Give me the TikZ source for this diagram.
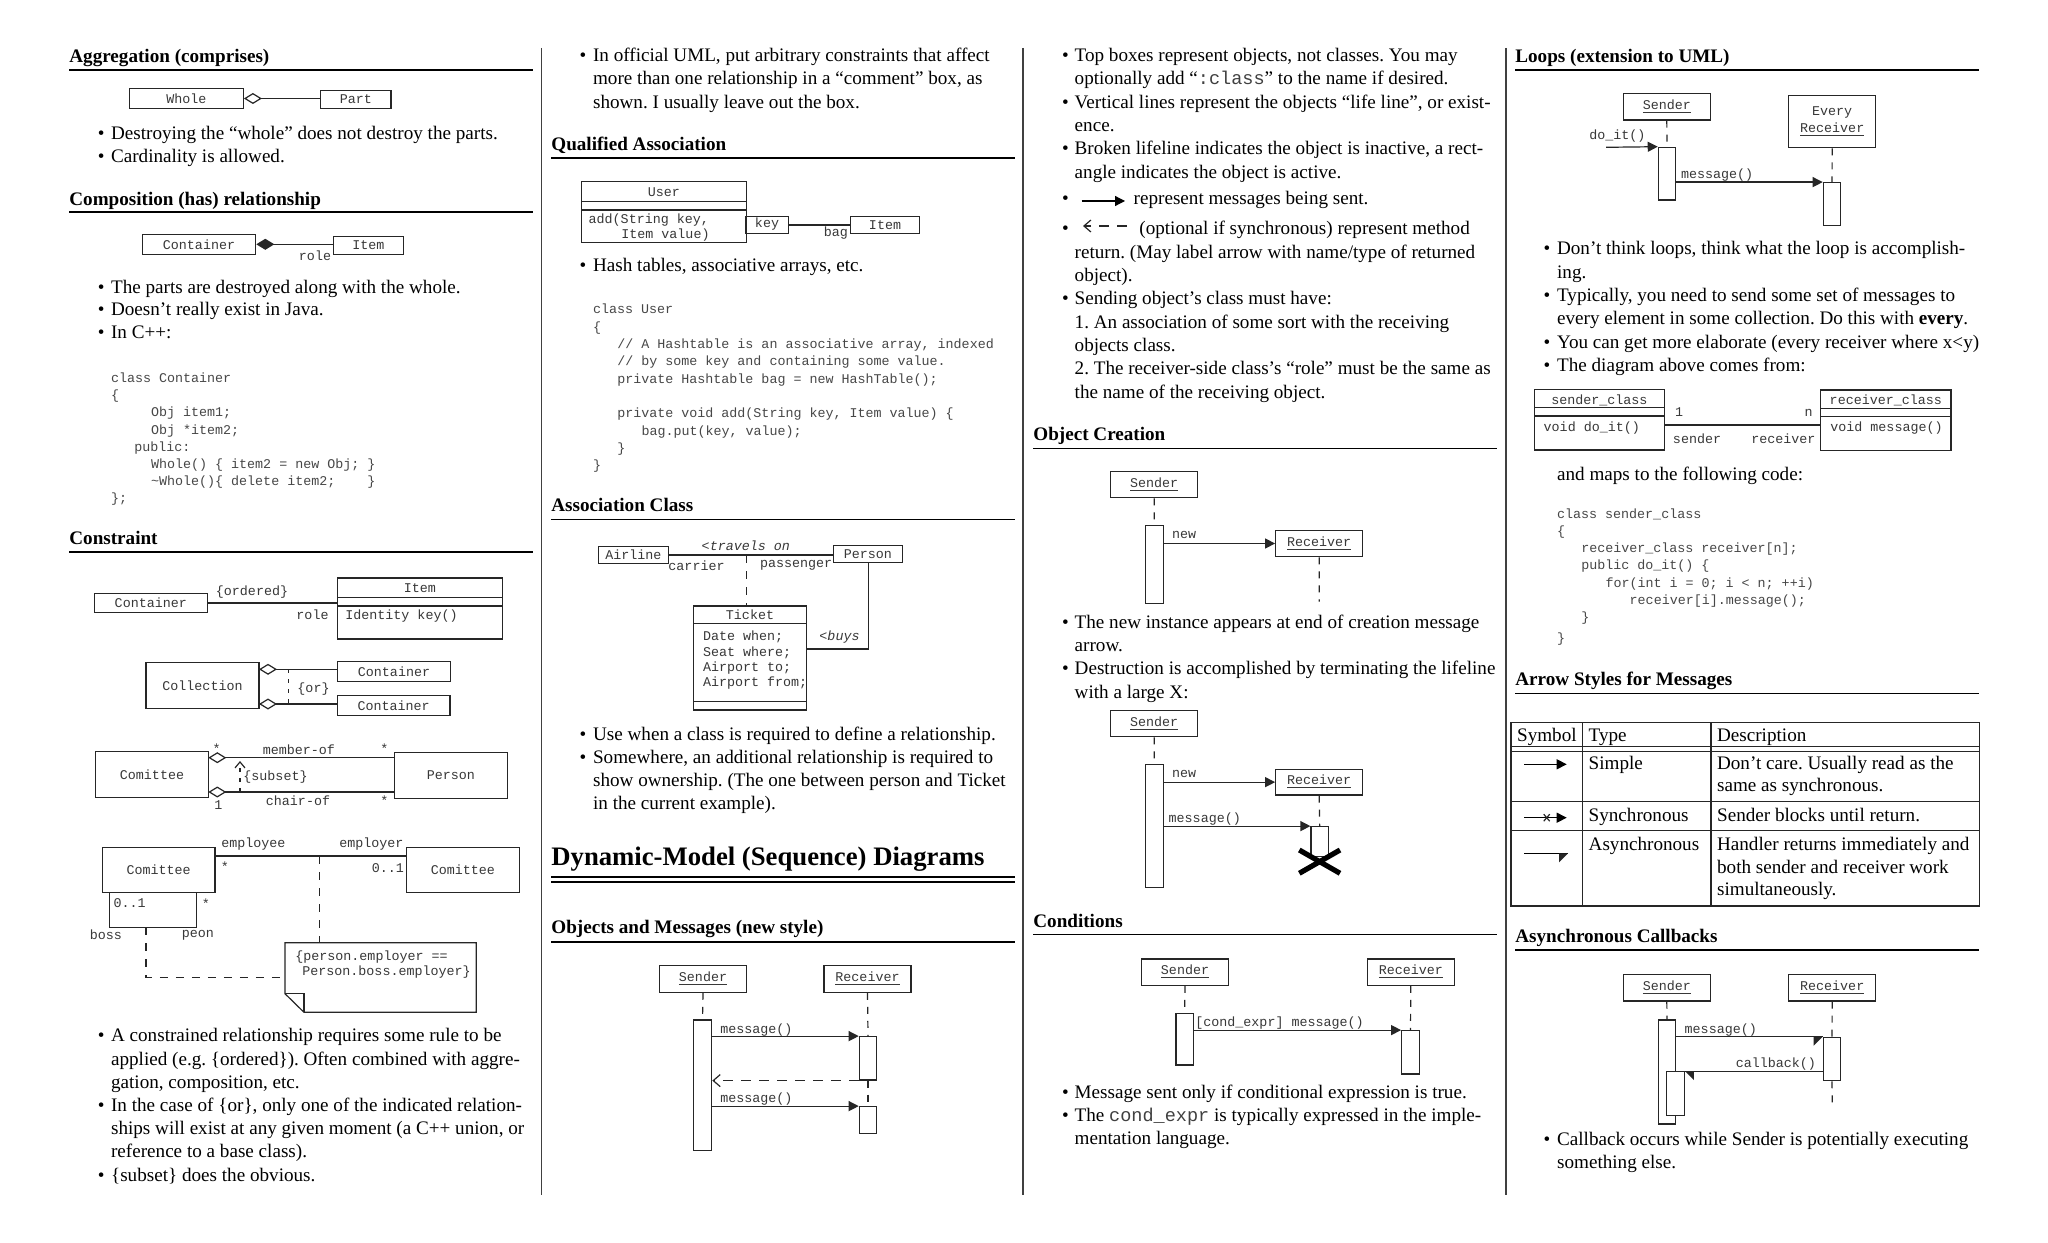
\documentclass[tikz,border=0pt]{standalone}
\usepackage{fontspec}
\setmainfont{Liberation Serif}
\setmonofont{Liberation Mono}
\usetikzlibrary{arrows.meta,fit,calc}
\tikzset{
  txt/.style={anchor=base west, inner sep=0pt, font=\fontsize{9.6}{11.7}\selectfont},
  hd/.style={anchor=base west, inner sep=0pt, font=\bfseries\fontsize{9.6}{11.7}\selectfont},
  cd/.style={anchor=base west, inner sep=0pt, font=\ttfamily\fontsize{6.7}{8}\selectfont, text=black!72},
  lb/.style={inner sep=0pt, font=\ttfamily\fontsize{6.7}{8}\selectfont, text=black!78},
  lbw/.style={lb, anchor=west},
  lbi/.style={lb, font=\ttfamily\itshape\fontsize{6.7}{8}\selectfont},
  bx/.style={draw=black!85, line width=0.6bp, inner sep=0pt},
  act/.style={bx, fill=white},
  rl/.style={line width=0.8bp},
  sep/.style={draw=black!75, line width=0.7bp},
  ln/.style={draw=black!85, line width=0.6bp},
  life/.style={ln, dash pattern=on 3.5bp off 3.5bp},
  dsh/.style={ln, dash pattern=on 2bp off 3bp},
  dshb/.style={ln, dash pattern=on 4bp off 4bp},
  msg/.style={ln, -{Triangle[length=5bp,width=5bp]}},
  ret/.style={ln, dash pattern=on 5bp off 4bp, -{Straight Barb[length=3.5bp,width=6bp]}},
  agg/.style={ln, {Diamond[open,length=9bp,width=5.5bp]}-},
  cmp/.style={ln, {Diamond[length=9bp,width=5.5bp]}-},
}
\newcommand\UB[5]{\node[bx, fit={(#2,#3) (#4,#5)}] (#1) {};}
\newcommand\UA[5]{\node[act, fit={(#2,#3) (#4,#5)}] (#1) {};}
\newcommand\TX[4]{\node[txt] (#1) at (#2,#3) {#4};}
\newcommand\BT[5]{\node[txt] (#1b) at (#2,#4) {\textbullet}; \node[txt] (#1) at (#3,#4) {#5};}
\newcommand\HD[5]{\node[hd] (#1) at (#2,#3) {#5}; \draw[rl] (#2,#4) -- ++(464,0);}
\newcommand\HR[1]{\fill[black!85] (#1) -- ++(-9,0) -- ++(0,9) -- cycle;}
\newcommand\HL[1]{\fill[black!85] (#1) -- ++(9,0) -- ++(0,9) -- cycle;}
\newcommand\itt[1]{{\ttfamily\fontsize{9.3}{11.7}\selectfont\color{black!75}#1}}
\def\bA{97.5}\def\tA{110.7}
\def\bB{579.3}\def\tB{592.7}
\def\bC{1061.7}\def\tC{1074.3}
\def\bD{1543.3}\def\tD{1556.7}
\begin{document}
\frenchspacing
\begin{tikzpicture}[x=0.5bp,y=-0.5bp]
\useasboundingbox (0,0) rectangle (2048,1243);
\fill[white] (0,0) rectangle (2048,1243);
% column separators
\draw[sep] (541.7,48) -- (541.7,1195);
\draw[sep] (1023,48) -- (1023,1195);
\draw[sep] (1506,48) -- (1506,1195);

% ================= COLUMN 1
\HD{h1}{69}{62.3}{70}{Aggregation (comprises)}
\UB{whole}{129.3}{88.7}{243.3}{108.3}
\UB{part}{320.7}{90.7}{391}{108.3}
\node[lb] (wholet) at (whole) {Whole};
\node[lb] (partt) at (part) {Part};
\draw[agg] (whole.east) -- (whole.east -| part.west);
\BT{a1}{\bA}{\tA}{139.3}{Destroying the “whole” does not destroy the parts.}
\BT{a2}{\bA}{\tA}{162.3}{Cardinality is allowed.}

\HD{h2}{69}{205.7}{212.3}{Composition (has) relationship}
\UB{cont}{142.3}{234.3}{255.7}{254.3}
\UB{itm}{333.3}{236.3}{403.3}{254.3}
\node[lb] (contt) at (cont) {Container};
\node[lb] (itmt) at (itm) {Item};
\draw[cmp] (cont.east) -- (cont.east -| itm.west);
\node[lb] (role1) at (315,256) {role};
\BT{a3}{\bA}{\tA}{293.3}{The parts are destroyed along with the whole.}
\BT{a4}{\bA}{\tA}{316}{Doesn’t really exist in Java.}
\BT{a5}{\bA}{\tA}{339}{In C++:}

\node[cd] (k1) at (110.7,382.3) {class Container};
\node[cd] (k2) at (110.7,399.5) {\{};
\node[cd] (k3) at (150.7,416.7) {Obj item1;};
\node[cd] (k4) at (150.7,434) {Obj *item2;};
\node[cd] (k5) at (134,451.2) {public:};
\node[cd] (k6) at (150.7,468.4) {Whole() \{ item2 = new Obj; \}};
\node[cd] (k7) at (150.7,485.6) {\textasciitilde Whole()\{ delete item2;\ \ \ \ \}};
\node[cd] (k8) at (110.7,502.8) {\};};

\HD{h3}{69}{544.5}{551.7}{Constraint}
% diagram 1
\UB{ccont}{94.3}{593.3}{207.3}{612.7}
\UB{citem}{337.3}{578}{502.3}{639}
\draw[ln] (337.3,597.3) -- (502.3,597.3);
\draw[ln] (337.3,606) -- (502.3,606);
\node[lb] (ccontt) at (ccont) {Container};
\node[lb] (citemt) at (419.8,588) {Item};
\node[lbw] (citemk) at (345,616) {Identity key()};
\draw[ln] (ccont.east) -- (ccont.east -| citem.west);
\node[lb] (ord) at (252,592.3) {\{ordered\}};
\node[lb] (role2) at (312.5,614.3) {role};
% diagram 2
\UB{coll}{146}{662.7}{259}{708.3}
\UB{cu}{337.3}{661.3}{450.7}{681.7}
\UB{cl}{337.3}{695.7}{450}{715.7}
\node[lb] (collt) at (coll) {Collection};
\node[lb] (cut) at (cu) {Container};
\node[lb] (clt) at (cl) {Container};
\coordinate (cu0) at (259,669.3);
\coordinate (cl0) at (259,704);
\draw[agg] (cu0) -- (cu0 -| cu.west);
\draw[agg] (cl0) -- (cl0 -| cl.west);
\coordinate (or1) at (288.3,669.3);
\coordinate (or2) at (288.3,704);
\draw[dsh] (or1) -- (or2);
\node[lb] (ort) at (313.5,689.3) {\{or\}};
% diagram 3
\UB{com1}{95.7}{751.3}{208.3}{797.3}
\UB{pers}{394.3}{752.3}{507.3}{798.3}
\node[lb] (com1t) at (com1) {Comittee};
\node[lb] (perst) at (pers) {Person};
\coordinate (m1) at (208.3,757.7);
\coordinate (m2) at (208.3,792);
\draw[agg] (m1) -- (m1 -| pers.west);
\draw[agg] (m2) -- (m2 -| pers.west);
\coordinate (sb1) at (240,792);
\coordinate (sb2) at (240,761);
\draw[ln, dash pattern=on 2bp off 3bp, -{Straight Barb[length=3bp,width=5bp]}] (sb1) -- (sb2);
\node[lb] (st1) at (216.7,749) {*};
\node[lb] (mo) at (298.8,749.5) {member-of};
\node[lb] (st2) at (384.3,749) {*};
\node[lb] (sbs) at (275.5,777.3) {\{subset\}};
\node[lb] (one1) at (218.3,805) {1};
\node[lb] (co) at (298,800.5) {chair-of};
\node[lb] (st3) at (384.3,800.5) {*};
% diagram 4
\UB{com2}{102.3}{847.3}{215}{892.7}
\UB{com3}{406.3}{847.3}{519.3}{892.7}
\node[lb] (com2t) at (com2) {Comittee};
\node[lb] (com3t) at (com3) {Comittee};
\coordinate (e1) at (215,856);
\draw[ln] (e1) -- (e1 -| com3.west);
\coordinate (sl1) at (109.3,892.7);
\coordinate (sl2) at (196.7,892.7);
\draw[ln] (sl1) -- ++(0,34.6) -| (sl2);
\node[inner sep=0pt, fit={(285,942.7) (476.3,1012.3)}] (note) {};
\draw[ln, fill=white] (285,942.7) -- (476.3,942.7) -- (476.3,1012.3) -- (304,1012.3) -- (285,993.7) -- cycle;
\draw[ln] (285,993.7) -- (304,993.7) -- (304,1012.3);
\coordinate (bs) at (146,927.3);
\draw[dshb] (bs) |- (note.west);
\coordinate (ep) at (319.3,856);
\draw[dshb] (ep) -- (ep |- note.north);
\node[lb] (emp1) at (253.3,844) {employee};
\node[lb] (emp2) at (371.3,844) {employer};
\node[lb] (st4) at (225,866.7) {*};
\node[lb] (z1) at (387.8,868.3) {0..1};
\node[lb] (z2) at (129.7,902.7) {0..1};
\node[lb] (st5) at (206,903.3) {*};
\node[lb] (boss) at (105.8,935) {boss};
\node[lb] (peon) at (197.8,935) {peon};
\node[lbw] (nt1) at (295,956.7) {\{person.employer ==};
\node[lbw] (nt2) at (302,972) {Person.boss.employer\}};

\BT{a6}{\bA}{\tA}{1041.7}{A constrained relationship requires some rule to be}
\TX{a7}{\tA}{1065}{applied (e.g. \{ordered\}). Often combined with aggre-}
\TX{a8}{\tA}{1088.3}{gation, composition, etc.}
\BT{a9}{\bA}{\tA}{1111.3}{In the case of \{or\}, only one of the indicated relation-}
\TX{a10}{\tA}{1134.6}{ships will exist at any given moment (a C++ union, or}
\TX{a11}{\tA}{1157.9}{reference to a base class).}
\BT{a12}{\bA}{\tA}{1181.2}{\{subset\} does the obvious.}

% ================= COLUMN 2
\BT{b1}{\bB}{\tB}{61.7}{In official UML, put arbitrary constraints that affect}
\TX{b2}{\tB}{85}{more than one relationship in a “comment” box, as}
\TX{b3}{\tB}{108.3}{shown. I usually leave out the box.}
\HD{h4}{551}{150.3}{158.3}{Qualified Association}
\UB{user}{581.3}{181.7}{746.3}{242.3}
\draw[ln] (581.3,201.7) -- (746.3,201.7);
\draw[ln] (581.3,210) -- (746.3,210);
\node[lb] (usert) at (663.8,191.7) {User};
\node[lbw] (usera) at (588.3,220) {add(String key,};
\node[lbw] (userb) at (621,235) {Item value)};
\UB{key}{745.3}{216.7}{788.7}{233.3}
\node[lb] (keyt) at (767,224.5) {key};
\UB{qitem}{850.7}{216.7}{919.3}{233.3}
\node[lb] (qitemt) at (885,225) {Item};
\draw[ln] (key.east) -- (qitem.west);
\node[lb] (bag) at (835.8,232.7) {bag};
\BT{b4}{\bB}{\tB}{272}{Hash tables, associative arrays, etc.}

\node[cd] (q1) at (592.7,314) {class User};
\node[cd] (q2) at (592.7,331.3) {\{};
\node[cd] (q3) at (616.9,348.6) {// A Hashtable is an associative array, indexed};
\node[cd] (q4) at (616.9,365.9) {// by some key and containing some value.};
\node[cd] (q5) at (616.9,383.2) {private Hashtable bag = new HashTable();};
\node[cd] (q6) at (616.9,417.8) {private void add(String key, Item value) \{};
\node[cd] (q7) at (641.1,435.1) {bag.put(key, value);};
\node[cd] (q8) at (616.9,452.4) {\}};
\node[cd] (q9) at (592.7,469.7) {\}};

\HD{h5}{551}{511}{519.3}{Association Class}
\UB{air}{598.3}{546.7}{668.3}{563.3}
\UB{apers}{833.3}{545.7}{902.3}{562.7}
\node[lb] (airt) at (air) {Airline};
\node[lb] (aperst) at (apers) {Person};
\draw[ln] (air.east) -- (air.east -| apers.west);
\node[lbi] (trav) at (745.8,545.7) {<travels on};
\node[lb] (carr) at (696.5,565.3) {carrier};
\node[lb] (pass) at (796.2,565.3) {passenger};
\UB{tick}{693.3}{606}{806.7}{710}
\draw[ln] (693.3,623.3) -- (806.7,623.3);
\draw[ln] (693.3,701.7) -- (806.7,701.7);
\node[lb] (tickt) at (750,614.3) {Ticket};
\node[lbw] (tk1) at (702.7,637.3) {Date when;};
\node[lbw] (tk2) at (702.7,652.7) {Seat where;};
\node[lbw] (tk3) at (702.7,667.7) {Airport to;};
\node[lbw] (tk4) at (702.7,683.3) {Airport from;};
\coordinate (ac) at (746.7,555);
\draw[dshb] (ac) -- (ac |- tick.north);
\coordinate (pb) at (868.3,562.7);
\draw[ln] (pb) |- (tick.east |- 0,649);
\node[lbi] (buys) at (839.5,637.3) {<buys};
\BT{b5}{\bB}{\tB}{740}{Use when a class is required to define a relationship.}
\BT{b6}{\bB}{\tB}{763.3}{Somewhere, an additional relationship is required to}
\TX{b7}{\tB}{786.6}{show ownership. (The one between person and Ticket}
\TX{b8}{\tB}{809.9}{in the current example).}

\node[anchor=base west, inner sep=0pt, font=\bfseries\fontsize{13.4}{16}\selectfont] (hbig) at (551,865) {Dynamic-Model (Sequence) Diagrams};
\draw[rl] (551,876.7) -- ++(464,0);
\draw[rl] (551,882) -- ++(464,0);
\HD{h6}{551}{933.5}{941.7}{Objects and Messages (new style)}
\UB{s1}{659.3}{965.7}{746.7}{992.3}
\UB{r1}{824}{965.7}{911}{992.3}
\node[lb] (s1t) at (s1) {\underline{Sender}};
\node[lb] (r1t) at (r1) {\underline{Receiver}};
\UA{sa1}{693.3}{1020}{711.7}{1150.7}
\UA{ra1}{859.3}{1036.7}{876.7}{1080}
\UA{ra2}{859.3}{1106.7}{876.7}{1133.3}
\draw[life] (s1.south) -- (sa1.north);
\draw[life] (r1.south) -- (ra1.north);
\draw[life] (ra1.south) -- (ra2.north);
\draw[msg] (ra1.north west -| sa1.east) -- (ra1.north west);
\draw[ret] (ra1.south west) -- (ra1.south west -| sa1.east);
\draw[msg] (ra2.north west -| sa1.east) -- (ra2.north west);
\node[lbw] (m1t) at (720,1030) {message()};
\node[lbw] (m2t) at (720,1099.3) {message()};

% ================= COLUMN 3
\BT{c3a}{\bC}{\tC}{61.7}{Top boxes represent objects, not classes. You may}
\TX{c3b}{\tC}{85}{optionally add “\itt{:class}” to the name if desired.}
\BT{c3c}{\bC}{\tC}{108.3}{Vertical lines represent the objects “life line”, or exist-}
\TX{c3d}{\tC}{131.6}{ence.}
\BT{c3e}{\bC}{\tC}{154.9}{Broken lifeline indicates the object is inactive, a rect-}
\TX{c3f}{\tC}{178.2}{angle indicates the object is active.}
\node[txt] (c3gb) at (\bC,205) {\textbullet};
\coordinate (ar1a) at (1081.7,201);
\coordinate (ar1b) at (1125,201);
\draw[ln, draw=black, -{Triangle[length=5bp,width=5bp]}] (ar1a) -- (ar1b);
\TX{c3g}{1133.3}{205}{represent messages being sent.}
\node[txt] (c3hb) at (\bC,235) {\textbullet};
\coordinate (ar2a) at (1127,226);
\coordinate (ar2b) at (1083,226);
\draw[ret] (ar2a) -- (ar2b);
\TX{c3h}{1139}{235}{(optional if synchronous) represent method}
\TX{c3i}{\tC}{258.3}{return. (May label arrow with name/type of returned}
\TX{c3j}{\tC}{281.6}{object).}
\BT{c3k}{\bC}{\tC}{304.9}{Sending object’s class must have:}
\TX{c3l}{\tC}{328.2}{1. An association of some sort with the receiving}
\TX{c3m}{\tC}{351.5}{objects class.}
\TX{c3n}{\tC}{374.8}{2. The receiver-side class’s “role” must be the same as}
\TX{c3o}{\tC}{398.1}{the name of the receiving object.}

\HD{h7}{1033}{440.5}{448.3}{Object Creation}
\UB{s2}{1110.7}{471.7}{1197.7}{497.7}
\node[lb] (s2t) at (s2) {\underline{Sender}};
\UA{sa2}{1145.3}{525.3}{1163.3}{603.3}
\draw[life] (s2.south) -- (sa2.north);
\UB{r2}{1275.7}{530.3}{1362.7}{556.7}
\node[lb] (r2t) at (r2) {\underline{Receiver}};
\draw[msg] (r2.west -| sa2.east) -- (r2.west);
\node[lbw] (new1) at (1171.7,535) {new};
\coordinate (r2e) at (1319.3,601.7);
\draw[life] (r2.south) -- (r2e);
\BT{c3p}{\bC}{\tC}{628.3}{The new instance appears at end of creation message}
\TX{c3q}{\tC}{651.6}{arrow.}
\BT{c3r}{\bC}{\tC}{674.9}{Destruction is accomplished by terminating the lifeline}
\TX{c3s}{\tC}{698.2}{with a large X:}

\UB{s3}{1110.7}{710.3}{1197.7}{736.7}
\node[lb] (s3t) at (s3) {\underline{Sender}};
\UA{sa3}{1145.3}{764.3}{1163.3}{887.3}
\draw[life] (s3.south) -- (sa3.north);
\UB{r3}{1275.7}{769.3}{1362.7}{795}
\node[lb] (r3t) at (r3) {\underline{Receiver}};
\draw[msg] (r3.west -| sa3.east) -- (r3.west);
\node[lbw] (new2) at (1171.7,774.3) {new};
\UA{ra3}{1311}{826.7}{1328.3}{856.7}
\draw[life] (r3.south) -- (ra3.north);
\draw[msg] (ra3.north west -| sa3.east) -- (ra3.north west);
\node[lbw] (m3t) at (1168.3,819) {message()};
\draw[line width=2.6bp] (1299.3,850) -- (1340,873.3);
\draw[line width=2.6bp] (1299.3,873.3) -- (1340,850);

\HD{h8}{1033}{927}{934.3}{Conditions}
\UB{s4}{1141.3}{959}{1228.7}{985.3}
\UB{r4}{1367.3}{959}{1454.3}{985.3}
\node[lb] (s4t) at (s4) {\underline{Sender}};
\node[lb] (r4t) at (r4) {\underline{Receiver}};
\UA{sa4}{1176}{1013.3}{1193.3}{1065}
\UA{ra4}{1401.7}{1030.7}{1419.3}{1074}
\draw[life] (s4.south) -- (sa4.north);
\draw[life] (r4.south) -- (ra4.north);
\draw[msg] (ra4.north west -| sa4.east) -- (ra4.north west);
\node[lbw] (cond) at (1195,1023.3) {[cond\_expr] message()};
\BT{c3t}{\bC}{\tC}{1098.3}{Message sent only if conditional expression is true.}
\BT{c3u}{\bC}{\tC}{1121.6}{The \itt{cond\_expr} is typically expressed in the imple-}
\TX{c3v}{\tC}{1144.9}{mentation language.}

% ================= COLUMN 4
\HD{h9}{1515}{62.3}{70}{Loops (extension to UML)}
\UB{s5}{1623.3}{93.3}{1710.3}{120}
\node[lb] (s5t) at (s5) {\underline{Sender}};
\UB{r5}{1788.7}{95.3}{1875.7}{147.7}
\node[lb] (r5a) at (1832.2,112.3) {Every};
\node[lb] (r5b) at (1832.2,130) {\underline{Receiver}};
\UA{sa5}{1658.3}{147.3}{1675.7}{200}
\UA{ra5}{1823.3}{182.7}{1840.7}{225.7}
\draw[life] (s5.south) -- (sa5.north);
\draw[life] (r5.south) -- (ra5.north);
\coordinate (doit) at (1606,147.3);
\draw[msg] (doit) -- (sa5.north west);
\node[lbw] (doitt) at (1589,135.7) {do\_it()};
\draw[msg] (ra5.north west -| sa5.east) -- (ra5.north west);
\node[lbw] (m5t) at (1680.7,175) {message()};

\BT{d1}{\bD}{\tD}{255}{Don’t think loops, think what the loop is accomplish-}
\TX{d2}{\tD}{278.3}{ing.}
\BT{d3}{\bD}{\tD}{301.6}{Typically, you need to send some set of messages to}
\TX{d4}{\tD}{324.9}{every element in some collection. Do this with \textbf{every}.}
\BT{d5}{\bD}{\tD}{348.2}{You can get more elaborate (every receiver where x<y)}
\BT{d6}{\bD}{\tD}{371.5}{The diagram above comes from:}

\UB{scl}{1534.3}{389.3}{1664.3}{450}
\draw[ln] (1534.3,407.7) -- (1664.3,407.7);
\draw[ln] (1534.3,416) -- (1664.3,416);
\node[lb] (sclt) at (1599.3,400) {sender\_class};
\node[lbw] (scla) at (1543.3,427.7) {void do\_it()};
\UB{rcl}{1820.7}{390}{1951}{450.7}
\draw[ln] (1820.7,408.3) -- (1951,408.3);
\draw[ln] (1820.7,416.7) -- (1951,416.7);
\node[lb] (rclt) at (1885.8,400.7) {receiver\_class};
\node[lbw] (rcla) at (1830,428.3) {void message()};
\coordinate (sc0) at (1664.3,425);
\draw[ln] (sc0) -- (sc0 -| rcl.west);
\node[lb] (one2) at (1679,411.7) {1};
\node[lb] (nn) at (1808.5,413.3) {n};
\node[lb] (sndr) at (1697,439) {sender};
\node[lb] (rcvr) at (1783.3,438.3) {receiver};

\TX{d7}{\tD}{480.5}{and maps to the following code:}
\node[cd] (p1) at (1556.7,518) {class sender\_class};
\node[cd] (p2) at (1556.7,535.3) {\{};
\node[cd] (p3) at (1580.9,552.6) {receiver\_class receiver[n];};
\node[cd] (p4) at (1580.9,569.9) {public do\_it() \{};
\node[cd] (p5) at (1605.1,587.2) {for(int i = 0; i < n; ++i)};
\node[cd] (p6) at (1629.3,604.5) {receiver[i].message();};
\node[cd] (p7) at (1580.9,621.8) {\}};
\node[cd] (p8) at (1556.7,642.5) {\}};

\HD{h10}{1515}{685.3}{693.3}{Arrow Styles for Messages}
\draw[ln] (1511,722.7) rectangle (1979.3,906);
\draw[ln] (1582.3,722.7) -- (1582.3,906);
\draw[ln] (1711,722.7) -- (1711,906);
\draw[ln] (1511,746.7) -- (1979.3,746.7);
\draw[ln] (1511,751.7) -- (1979.3,751.7);
\draw[ln] (1511,801.7) -- (1979.3,801.7);
\draw[ln] (1511,830.7) -- (1979.3,830.7);
\TX{t1}{1516.7}{741}{Symbol}
\TX{t2}{1588.3}{741}{Type}
\TX{t3}{1716.7}{741}{Description}
\TX{t4}{1588.3}{769}{Simple}
\TX{t5}{1716.7}{769}{Don’t care. Usually read as the}
\TX{t6}{1716.7}{791.5}{same as synchronous.}
\TX{t7}{1588.3}{821}{Synchronous}
\TX{t8}{1716.7}{821}{Sender blocks until return.}
\TX{t9}{1588.3}{850.5}{Asynchronous}
\TX{t10}{1716.7}{850.5}{Handler returns immediately and}
\TX{t11}{1716.7}{873}{both sender and receiver work}
\TX{t12}{1716.7}{895.5}{simultaneously.}
\coordinate (y1a) at (1524,764.3);
\coordinate (y1b) at (1566.7,764.3);
\draw[ln, draw=black, -{Triangle[length=5bp,width=5bp]}] (y1a) -- (y1b);
\coordinate (y2a) at (1524,817.7);
\coordinate (y2b) at (1566.7,817.7);
\draw[ln, draw=black, -{Triangle[length=5bp,width=5bp]}] (y2a) -- (y2b);
\draw[ln] (1543.7,814.2) -- (1549.7,821.2);
\draw[ln] (1543.7,821.2) -- (1549.7,814.2);
\coordinate (y3a) at (1524,853.3);
\coordinate (y3b) at (1568,853.3);
\draw[ln, draw=black] (y3a) -- (y3b);
\HR{y3b}

\HD{h11}{1515}{942}{950}{Asynchronous Callbacks}
\UB{s6}{1623.3}{974.3}{1710.3}{1001}
\UB{r6}{1788.7}{974.3}{1875.7}{1001}
\node[lb] (s6t) at (s6) {\underline{Sender}};
\node[lb] (r6t) at (r6) {\underline{Receiver}};
\UA{sa6}{1658.3}{1020}{1675.7}{1124}
\UA{sb6}{1666.7}{1071.7}{1684.3}{1115.3}
\UA{ra6}{1823.3}{1037.3}{1840.7}{1080.7}
\draw[life] (s6.south) -- (sa6.north);
\draw[life] (r6.south) -- (ra6.north);
\coordinate (r6e) at (1832.3,1108.3);
\draw[life] (ra6.south) -- (r6e);
\draw[ln] (ra6.north west -| sa6.east) -- (ra6.north west);
\HR{ra6.north west}
\draw[ln] (sb6.north east -| ra6.west) -- (sb6.north east);
\HL{sb6.north east}
\node[lbw] (m6t) at (1684.3,1030) {message()};
\node[lb] (cbt) at (1775.8,1064.3) {callback()};
\BT{d8}{\bD}{\tD}{1145}{Callback occurs while Sender is potentially executing}
\TX{d9}{\tD}{1168.3}{something else.}
\end{tikzpicture}
\end{document}
